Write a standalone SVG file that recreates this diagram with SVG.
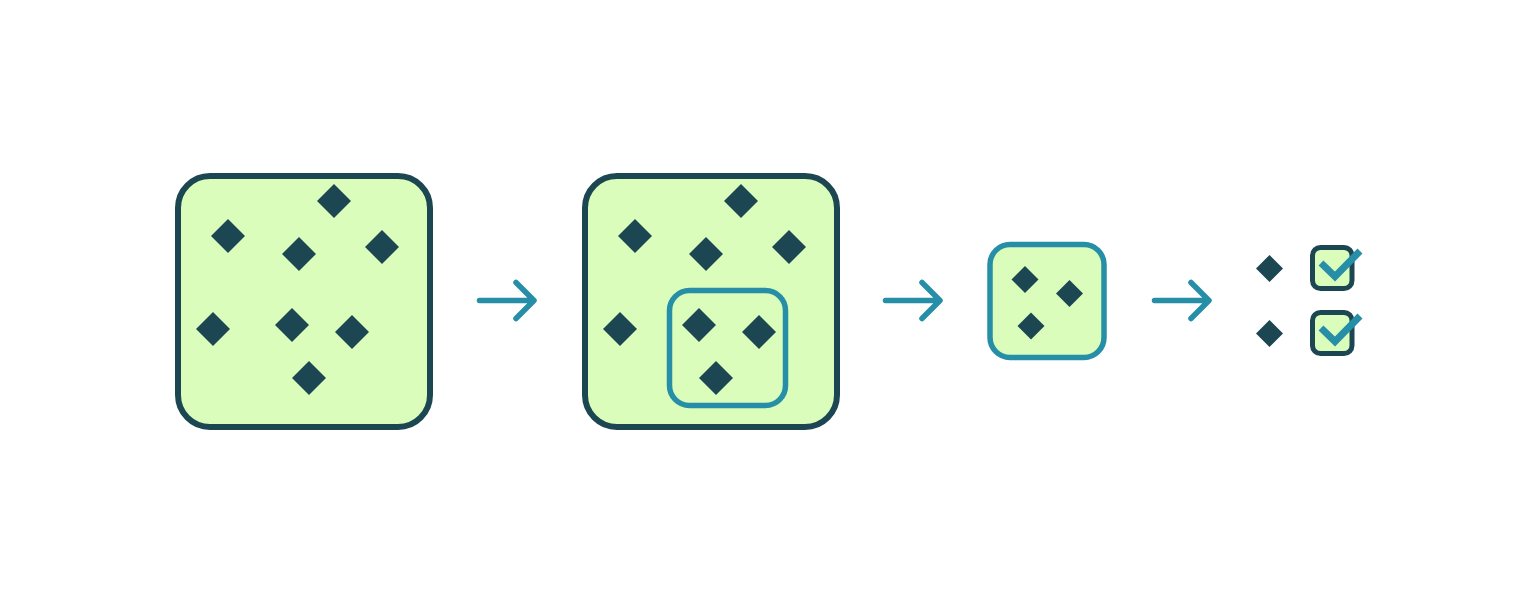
<svg xmlns="http://www.w3.org/2000/svg" xmlns:xlink="http://www.w3.org/1999/xlink" width="1536" height="602" viewBox="0 0 1536 602">
<style>
.big{fill:#dafdbc;stroke:#1c4651;stroke-width:6}
.sel{fill:#dafdbc;stroke:#268ea6;stroke-width:5.5}
.selin{fill:none;stroke:#268ea6;stroke-width:5.5}
.dia{fill:#1c4651}
.arrow{fill:none;stroke:#268ea6;stroke-width:5.5;stroke-linecap:round;stroke-linejoin:round}
.cb{fill:#dafdbc;stroke:#1c4651;stroke-width:5}
.tick{fill:none;stroke:#268ea6;stroke-width:7;stroke-linecap:butt;stroke-linejoin:miter}
</style>
<defs>
<path id="dL" d="M0,-17 L17,0 L0,17 L-17,0Z"/>
<path id="dS" d="M0,-13.5 L13.5,0 L0,13.5 L-13.5,0Z"/>
</defs>
<rect width="1536" height="602" fill="#ffffff"/>
<g id="node-all">
<rect class="big" x="178" y="176" width="252" height="251" rx="32"/>
<g class="dia">
<use xlink:href="#dL" x="334" y="201"/>
<use xlink:href="#dL" x="228" y="236"/>
<use xlink:href="#dL" x="299" y="254"/>
<use xlink:href="#dL" x="382" y="247"/>
<use xlink:href="#dL" x="213" y="329"/>
<use xlink:href="#dL" x="292" y="325"/>
<use xlink:href="#dL" x="352" y="332"/>
<use xlink:href="#dL" x="309" y="378"/>
</g>
</g>
<g id="node-select">
<rect class="big" x="585" y="176" width="252" height="251" rx="32"/>
<rect class="selin" x="669.5" y="290.5" width="116" height="115" rx="20"/>
<g class="dia">
<use xlink:href="#dL" x="741" y="201"/>
<use xlink:href="#dL" x="635" y="236"/>
<use xlink:href="#dL" x="706" y="254"/>
<use xlink:href="#dL" x="789" y="247"/>
<use xlink:href="#dL" x="620" y="329"/>
<use xlink:href="#dL" x="699" y="325"/>
<use xlink:href="#dL" x="759" y="332"/>
<use xlink:href="#dL" x="716" y="378"/>
</g>
</g>
<g id="node-subset">
<rect class="sel" x="990" y="244.5" width="114" height="113" rx="20"/>
<g class="dia">
<use xlink:href="#dS" x="1025" y="279.5"/>
<use xlink:href="#dS" x="1069.5" y="293.5"/>
<use xlink:href="#dS" x="1031" y="326"/>
</g>
</g>
<g id="node-checked">
<g class="dia">
<use xlink:href="#dS" x="1269.5" y="268.5"/>
<use xlink:href="#dS" x="1269.5" y="333.5"/>
</g>
<rect class="cb" x="1312.5" y="1247.5" width="39.5" height="41" rx="8" transform="translate(0,-1000)"/>
<rect class="cb" x="1312.5" y="312.5" width="39.5" height="41" rx="8"/>
<polyline class="tick" points="1321,263 1335,276.5 1360,251"/>
<polyline class="tick" points="1321,328 1335,341.5 1360,316"/>
</g>
<g id="connectors">
<path class="arrow" d="M479.5,300.5 H533.5 M516,282.5 L534,300.5 L516,318.5"/>
<path class="arrow" d="M885.5,300.5 H939.5 M922,282.5 L940,300.5 L922,318.5"/>
<path class="arrow" d="M1154.5,300.5 H1208.5 M1191,282.5 L1209,300.5 L1191,318.5"/>
</g>
</svg>
